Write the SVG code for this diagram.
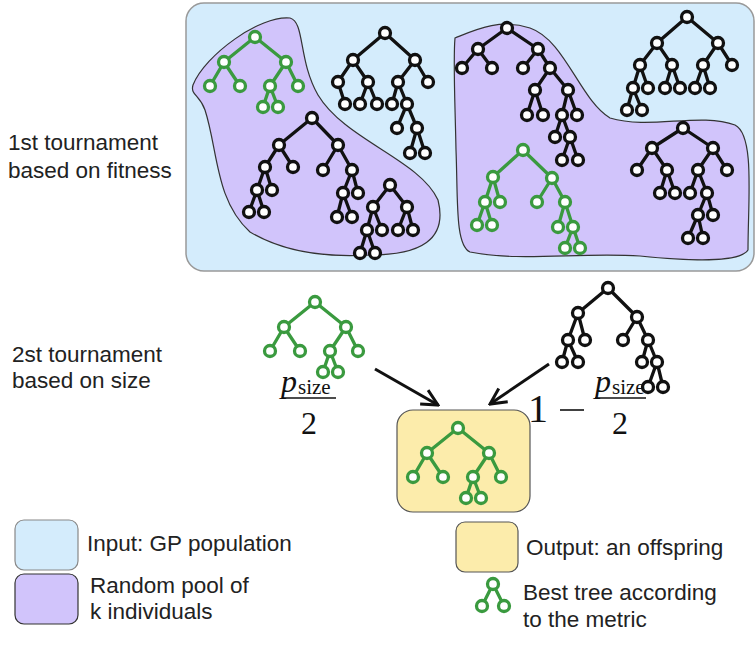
<svg xmlns="http://www.w3.org/2000/svg" width="756" height="648" viewBox="0 0 756 648">
<style>
.t{font-family:"Liberation Sans",Arial,sans-serif;font-size:22.5px;fill:#222}
.m{font-family:"Liberation Serif","DejaVu Serif",serif;fill:#111}
.k{stroke:#111;stroke-width:3.3}
.g{stroke:#3a9a3f;stroke-width:3.3}
.k path,.g path{fill:none}
.k circle,.g circle{fill:#fff}
</style>
<defs>
<marker id="ah" viewBox="0 0 20 20" refX="18" refY="10" markerWidth="20" markerHeight="20" markerUnits="userSpaceOnUse" orient="auto">
<path d="M2 2 L18 10 L2 18" fill="none" stroke="#111" stroke-width="3"/>
</marker>
<g id="treeA">
<path fill="none" d="M255 37L224 62M255 37L286 62M224 62L210 86M224 62L240 86M286 62L270 86M286 62L298 86M270 86L263 107M270 86L278 107"/>
<g fill="#fff"><circle cx="255" cy="37" r="5.5"/><circle cx="224" cy="62" r="5.5"/><circle cx="286" cy="62" r="5.5"/><circle cx="210" cy="86" r="5.5"/><circle cx="240" cy="86" r="5.5"/><circle cx="270" cy="86" r="5.5"/><circle cx="298" cy="86" r="5.5"/><circle cx="263" cy="107" r="5.5"/><circle cx="278" cy="107" r="5.5"/></g>
</g>
</defs>
<g id="population">
<rect x="186" y="3" width="568" height="268" rx="18" fill="#d4ecfc" stroke="#999" stroke-width="1.5"/>
<path d="M193 85 C205 55 260 15 290 18 C305 22 298 60 318 95 C345 140 420 160 438 200 C448 240 420 255 370 255 C320 258 280 250 250 232 C215 200 218 150 205 110 C200 95 190 95 193 85Z" fill="#d1c4fb" stroke="#333" stroke-width="1.2"/>
<path d="M455 38 C475 30 500 18 530 28 C565 40 580 100 610 118 C650 130 700 112 735 125 C755 135 748 200 748 250 C740 262 700 262 640 256 C580 252 520 262 470 252 C455 245 458 200 456 150 C455 100 453 60 455 38Z" fill="#d1c4fb" stroke="#333" stroke-width="1.2"/>
</g>
<g id="treeA1" class="g"><use href="#treeA"/></g>
<g id="treeB" class="k">
<path d="M385 33L353 60M385 33L415 60M353 60L338 82M353 60L368 82M338 82L345 104M368 82L360 104M368 82L377 104M415 60L398 82M415 60L428 82M398 82L392 104M398 82L407 104M407 104L397 128M407 104L417 128M417 128L410 153M417 128L425 153"/>
<circle cx="385" cy="33" r="5.5"/><circle cx="353" cy="60" r="5.5"/><circle cx="415" cy="60" r="5.5"/><circle cx="338" cy="82" r="5.5"/><circle cx="368" cy="82" r="5.5"/><circle cx="345" cy="104" r="5.5"/><circle cx="360" cy="104" r="5.5"/><circle cx="377" cy="104" r="5.5"/><circle cx="398" cy="82" r="5.5"/><circle cx="428" cy="82" r="5.5"/><circle cx="392" cy="104" r="5.5"/><circle cx="407" cy="104" r="5.5"/><circle cx="397" cy="128" r="5.5"/><circle cx="417" cy="128" r="5.5"/><circle cx="410" cy="153" r="5.5"/><circle cx="425" cy="153" r="5.5"/>
</g>
<g id="treeC" class="k">
<path d="M312 118L279 145M312 118L338 145M279 145L265 167M279 145L293 167M265 167L257 190M265 167L272 190M257 190L249 212M257 190L264 212M338 145L323 170M338 145L352 170M352 170L343 193M352 170L358 193M343 193L337 217M343 193L352 217"/>
<circle cx="312" cy="118" r="5.5"/><circle cx="279" cy="145" r="5.5"/><circle cx="338" cy="145" r="5.5"/><circle cx="265" cy="167" r="5.5"/><circle cx="293" cy="167" r="5.5"/><circle cx="257" cy="190" r="5.5"/><circle cx="272" cy="190" r="5.5"/><circle cx="249" cy="212" r="5.5"/><circle cx="264" cy="212" r="5.5"/><circle cx="323" cy="170" r="5.5"/><circle cx="352" cy="170" r="5.5"/><circle cx="343" cy="193" r="5.5"/><circle cx="358" cy="193" r="5.5"/><circle cx="337" cy="217" r="5.5"/><circle cx="352" cy="217" r="5.5"/>
</g>
<g id="treeD" class="k">
<path d="M390 185L373 207M390 185L407 207M373 207L367 230M373 207L382 230M367 230L360 253M367 230L375 253M407 207L398 230M407 207L413 230"/>
<circle cx="390" cy="185" r="5.5"/><circle cx="373" cy="207" r="5.5"/><circle cx="407" cy="207" r="5.5"/><circle cx="367" cy="230" r="5.5"/><circle cx="382" cy="230" r="5.5"/><circle cx="360" cy="253" r="5.5"/><circle cx="375" cy="253" r="5.5"/><circle cx="398" cy="230" r="5.5"/><circle cx="413" cy="230" r="5.5"/>
</g>
<g id="treeE" class="k">
<path d="M507 28L478 49M507 28L538 49M478 49L462 68M478 49L492 68M538 49L523 68M538 49L550 68M550 68L535 90M550 68L568 90M535 90L527 115M535 90L543 115M568 90L562 115M568 90L577 115M562 115L555 137M562 115L570 137M570 137L562 160M570 137L578 160"/>
<circle cx="507" cy="28" r="5.5"/><circle cx="478" cy="49" r="5.5"/><circle cx="538" cy="49" r="5.5"/><circle cx="462" cy="68" r="5.5"/><circle cx="492" cy="68" r="5.5"/><circle cx="523" cy="68" r="5.5"/><circle cx="550" cy="68" r="5.5"/><circle cx="535" cy="90" r="5.5"/><circle cx="568" cy="90" r="5.5"/><circle cx="527" cy="115" r="5.5"/><circle cx="543" cy="115" r="5.5"/><circle cx="562" cy="115" r="5.5"/><circle cx="577" cy="115" r="5.5"/><circle cx="555" cy="137" r="5.5"/><circle cx="570" cy="137" r="5.5"/><circle cx="562" cy="160" r="5.5"/><circle cx="578" cy="160" r="5.5"/>
</g>
<g id="treeF" class="k">
<path d="M687 17L657 43M687 17L718 43M657 43L640 65M657 43L672 65M718 43L703 65M718 43L732 65M640 65L633 88M640 65L648 88M672 65L665 88M672 65L680 88M703 65L695 88M703 65L710 88M633 88L627 110M633 88L642 110"/>
<circle cx="687" cy="17" r="5.5"/><circle cx="657" cy="43" r="5.5"/><circle cx="718" cy="43" r="5.5"/><circle cx="640" cy="65" r="5.5"/><circle cx="672" cy="65" r="5.5"/><circle cx="703" cy="65" r="5.5"/><circle cx="732" cy="65" r="5.5"/><circle cx="633" cy="88" r="5.5"/><circle cx="648" cy="88" r="5.5"/><circle cx="665" cy="88" r="5.5"/><circle cx="680" cy="88" r="5.5"/><circle cx="695" cy="88" r="5.5"/><circle cx="710" cy="88" r="5.5"/><circle cx="627" cy="110" r="5.5"/><circle cx="642" cy="110" r="5.5"/>
</g>
<g id="treeG" class="g">
<path d="M523 150L493 177M523 150L552 178M493 177L485 202M493 177L500 202M485 202L477 225M485 202L492 225M552 178L537 202M552 178L565 202M565 202L558 227M565 202L573 227M573 227L565 248M573 227L580 248"/>
<circle cx="523" cy="150" r="5.5"/><circle cx="493" cy="177" r="5.5"/><circle cx="552" cy="178" r="5.5"/><circle cx="485" cy="202" r="5.5"/><circle cx="500" cy="202" r="5.5"/><circle cx="477" cy="225" r="5.5"/><circle cx="492" cy="225" r="5.5"/><circle cx="537" cy="202" r="5.5"/><circle cx="565" cy="202" r="5.5"/><circle cx="558" cy="227" r="5.5"/><circle cx="573" cy="227" r="5.5"/><circle cx="565" cy="248" r="5.5"/><circle cx="580" cy="248" r="5.5"/>
</g>
<g id="treeH" class="k">
<path d="M683 128L652 148M683 128L713 148M652 148L637 170M652 148L667 170M667 170L660 193M667 170L675 193M713 148L698 170M713 148L727 170M698 170L690 193M698 170L707 193M707 193L698 215M707 193L713 215M698 215L688 238M698 215L703 238"/>
<circle cx="683" cy="128" r="5.5"/><circle cx="652" cy="148" r="5.5"/><circle cx="713" cy="148" r="5.5"/><circle cx="637" cy="170" r="5.5"/><circle cx="667" cy="170" r="5.5"/><circle cx="660" cy="193" r="5.5"/><circle cx="675" cy="193" r="5.5"/><circle cx="698" cy="170" r="5.5"/><circle cx="727" cy="170" r="5.5"/><circle cx="690" cy="193" r="5.5"/><circle cx="707" cy="193" r="5.5"/><circle cx="698" cy="215" r="5.5"/><circle cx="713" cy="215" r="5.5"/><circle cx="688" cy="238" r="5.5"/><circle cx="703" cy="238" r="5.5"/>
</g>
<g id="treeSmallGreen" class="g"><use href="#treeA" transform="translate(60 265)"/></g>
<g id="treeI" class="k">
<path d="M608 288L578 313M608 288L637 317M578 313L568 340M578 313L585 340M568 340L562 362M568 340L578 362M637 317L623 340M637 317L648 340M648 340L642 362M648 340L657 362M657 362L648 387M657 362L663 387"/>
<circle cx="608" cy="288" r="5.5"/><circle cx="578" cy="313" r="5.5"/><circle cx="637" cy="317" r="5.5"/><circle cx="568" cy="340" r="5.5"/><circle cx="585" cy="340" r="5.5"/><circle cx="562" cy="362" r="5.5"/><circle cx="578" cy="362" r="5.5"/><circle cx="623" cy="340" r="5.5"/><circle cx="648" cy="340" r="5.5"/><circle cx="642" cy="362" r="5.5"/><circle cx="657" cy="362" r="5.5"/><circle cx="648" cy="387" r="5.5"/><circle cx="663" cy="387" r="5.5"/>
</g>
<g id="connectors" stroke="#111" stroke-width="3" fill="none">
<line x1="375" y1="369" x2="438" y2="405" marker-end="url(#ah)"/>
<line x1="549" y1="364" x2="490" y2="404" marker-end="url(#ah)"/>
</g>
<g id="output">
<rect x="397" y="410" width="133" height="102" rx="16" fill="#fcecab" stroke="#555" stroke-width="1.2"/>
<g class="g"><use href="#treeA" transform="translate(203 391)"/></g>
</g>
<g id="labels">
<text class="t" x="8" y="150">1st tournament</text>
<text class="t" x="8" y="178">based on fitness</text>
<text class="t" x="12" y="362">2st tournament</text>
<text class="t" x="12" y="388">based on size</text>
<text class="m" x="281" y="392" font-size="32" font-style="italic">p</text>
<text class="m" x="298" y="394" font-size="21">size</text>
<line x1="282" y1="398" x2="336" y2="398" stroke="#111" stroke-width="1.4"/>
<text class="m" x="309" y="434" font-size="32" text-anchor="middle">2</text>
<text class="m" x="528" y="422" font-size="40">1</text>
<line x1="560" y1="410" x2="584" y2="410" stroke="#111" stroke-width="1.6"/>
<text class="m" x="595" y="392" font-size="32" font-style="italic">p</text>
<text class="m" x="612" y="394" font-size="21">size</text>
<line x1="595" y1="398" x2="646" y2="398" stroke="#111" stroke-width="1.4"/>
<text class="m" x="620" y="434" font-size="32" text-anchor="middle">2</text>
</g>
<g id="legend">
<rect x="15" y="520" width="63" height="50" rx="9" fill="#d4ecfc" stroke="#888" stroke-width="1.2"/>
<rect x="15" y="574" width="63" height="50" rx="9" fill="#d1c4fb" stroke="#333" stroke-width="1.2"/>
<rect x="456" y="522" width="62" height="50" rx="9" fill="#fcecab" stroke="#555" stroke-width="1.2"/>
<text class="t" x="87" y="551">Input: GP population</text>
<text class="t" x="90" y="593">Random pool of</text>
<text class="t" x="90" y="619">k individuals</text>
<text class="t" x="526" y="555">Output: an offspring</text>
<text class="t" x="523" y="600">Best tree according</text>
<text class="t" x="523" y="627">to the metric</text>
<g class="g"><path d="M493 584L482 606M493 584L504 606"/><circle cx="493" cy="584" r="5.5"/><circle cx="482" cy="606" r="5.5"/><circle cx="504" cy="606" r="5.5"/></g>
</g>
</svg>
